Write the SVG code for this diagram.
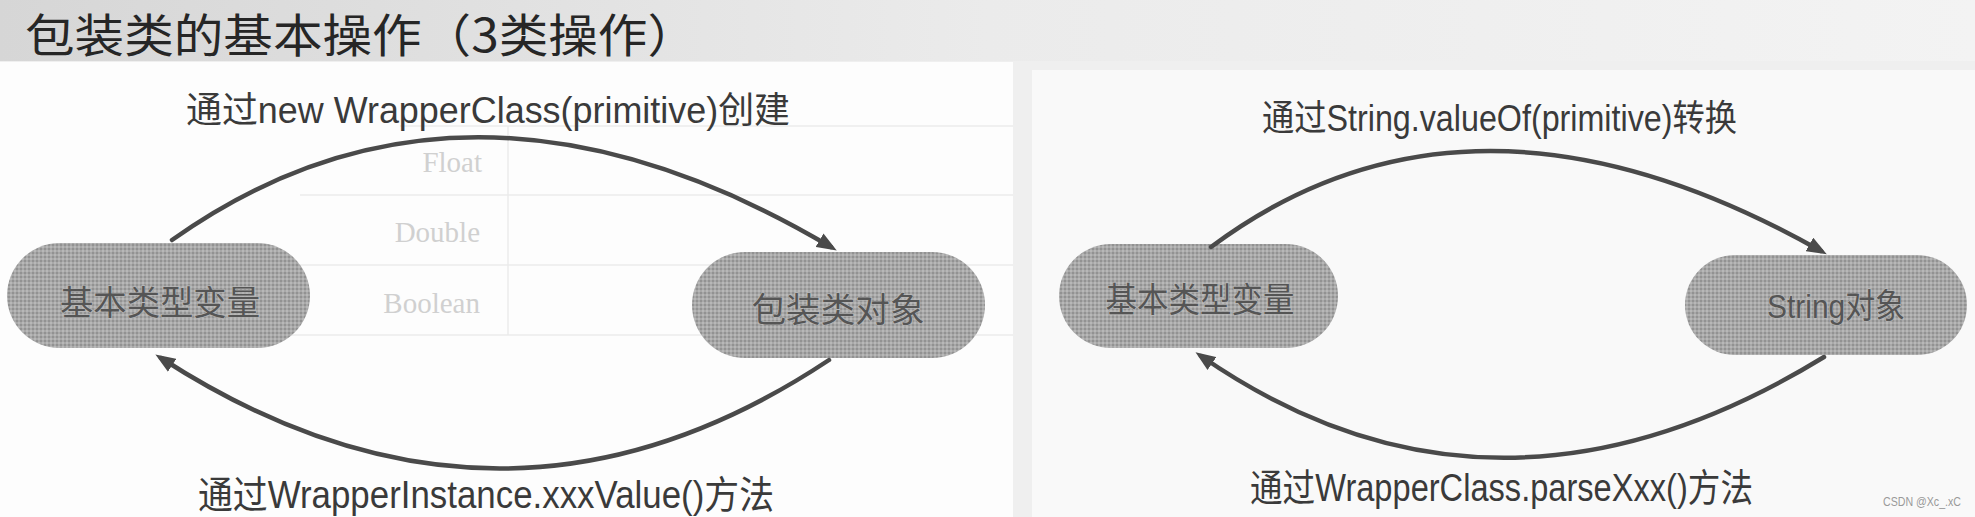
<svg xmlns="http://www.w3.org/2000/svg" width="1975" height="517" viewBox="0 0 1975 517">
  <style>
    .title { font-family: "Noto Sans CJK SC", "Liberation Sans", sans-serif; font-size: 46px; fill: #262626; }
    .lbl { font-family: "Liberation Sans", "Noto Sans CJK SC", sans-serif; fill: #3a3a3a; }
    .pill { fill: url(#ht); }
    .ntext { font-family: "Liberation Sans", "Noto Sans CJK SC", sans-serif; font-size: 34px; fill: #555555; stroke: #b9b9b9; stroke-width: 1.2px; paint-order: stroke; text-anchor: middle; }
    .conn { fill: none; stroke: #4a4a4a; stroke-width: 4.5; stroke-linecap: round; marker-end: url(#arr); }
    .ghost { font-family: "Liberation Serif", serif; font-size: 29px; fill: #d0d0d0; text-anchor: end; }
    .gline { stroke: #ebebeb; stroke-width: 1.5; fill: none; }
    .wm { font-family: "Liberation Sans", sans-serif; font-size: 12px; fill: #9a9a9a; }
  </style>
  <defs>
    <linearGradient id="band" x1="0" y1="0" x2="1" y2="0">
      <stop offset="0" stop-color="#d6d6d6"/>
      <stop offset="0.5" stop-color="#ebebeb"/>
      <stop offset="1" stop-color="#f3f3f3"/>
    </linearGradient>
    <pattern id="ht" width="4" height="4" patternUnits="userSpaceOnUse">
      <rect width="4" height="4" fill="#a8a8a8"/>
      <rect x="0" y="0" width="2" height="2" fill="#929292"/>
      <rect x="2" y="2" width="2" height="2" fill="#b8b8b8"/>
    </pattern>
    <marker id="arr" markerUnits="userSpaceOnUse" markerWidth="20" markerHeight="16" viewBox="0 0 18 14" refX="12" refY="7" orient="auto">
      <path d="M0,0 L18,7 L0,14 z" fill="#4a4a4a"/>
    </marker>
  </defs>

  <!-- background -->
  <rect x="0" y="0" width="1975" height="517" fill="#efefef"/>
  <rect x="0" y="0" width="1975" height="61" fill="url(#band)"/>
  <rect x="0" y="62" width="1013" height="455" fill="#fdfdfd"/>
  <rect x="1032" y="70" width="943" height="447" fill="#f9f9f9"/>

  <!-- faint scan-through table -->
  <g id="ghost">
    <path class="gline" d="M508,126 V335 M300,195 H1013 M300,265 H1013 M240,335 H1013 M400,126 H1013"/>
    <text class="ghost" x="482" y="172">Float</text>
    <text class="ghost" x="480" y="242">Double</text>
    <text class="ghost" x="480" y="313">Boolean</text>
  </g>

  <text class="title" x="25" y="52" textLength="672" lengthAdjust="spacingAndGlyphs">包装类的基本操作（3类操作）</text>

  <!-- left diagram nodes -->
  <g id="node-primitive-left">
    <rect class="pill" x="7" y="243" width="303" height="105" rx="52.5"/>
    <text class="ntext" x="160" y="315" textLength="200" lengthAdjust="spacingAndGlyphs">基本类型变量</text>
  </g>
  <g id="node-wrapper">
    <rect class="pill" x="692" y="252" width="293" height="106" rx="53"/>
    <text class="ntext" x="838" y="322" textLength="173" lengthAdjust="spacingAndGlyphs">包装类对象</text>
  </g>

  <!-- right diagram nodes -->
  <g id="node-primitive-right">
    <rect class="pill" x="1059" y="244" width="279" height="104" rx="52"/>
    <text class="ntext" x="1200" y="312" textLength="189" lengthAdjust="spacingAndGlyphs">基本类型变量</text>
  </g>
  <g id="node-string">
    <rect class="pill" x="1685" y="255" width="282" height="100" rx="50"/>
    <text class="ntext" x="1836" y="318" textLength="138" lengthAdjust="spacingAndGlyphs">String对象</text>
  </g>

  <!-- connectors -->
  <g id="connectors">
    <path class="conn" d="M172,240 Q466,31 831,247"/>
    <path class="conn" d="M829,360 Q501,578 161,358"/>
    <path class="conn" d="M1211,247 Q1471,53 1821,251"/>
    <path class="conn" d="M1824,357 Q1494,559 1201,356"/>
  </g>

  <!-- connector labels -->
  <g id="labels">
    <text class="lbl" x="186" y="123" font-size="36" textLength="604" lengthAdjust="spacingAndGlyphs">通过new WrapperClass(primitive)创建</text>
    <text class="lbl" x="198" y="508" font-size="38" textLength="576" lengthAdjust="spacingAndGlyphs">通过WrapperInstance.xxxValue()方法</text>
    <text class="lbl" x="1262" y="131" font-size="36" textLength="475" lengthAdjust="spacingAndGlyphs">通过String.valueOf(primitive)转换</text>
    <text class="lbl" x="1250" y="501" font-size="38" textLength="503" lengthAdjust="spacingAndGlyphs">通过WrapperClass.parseXxx()方法</text>
  </g>

  <text class="wm" x="1883" y="506" textLength="78" lengthAdjust="spacingAndGlyphs">CSDN @Xc_.xC</text>
</svg>
